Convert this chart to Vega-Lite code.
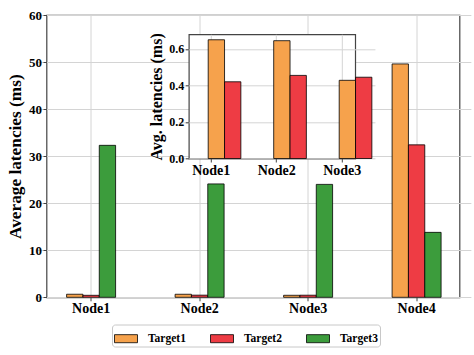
{
  "$schema": "https://vega.github.io/schema/vega-lite/v6.json",
  "autosize": {"type": "pad"},
  "padding": {"left": 5.5, "top": 8, "right": 0, "bottom": 0},
  "background": "white",
  "datasets": {
    "lat": [
      {"node": "Node1", "target": "Target1", "latency": 0.65},
      {"node": "Node1", "target": "Target2", "latency": 0.42},
      {"node": "Node1", "target": "Target3", "latency": 32.3},
      {"node": "Node2", "target": "Target1", "latency": 0.645},
      {"node": "Node2", "target": "Target2", "latency": 0.455},
      {"node": "Node2", "target": "Target3", "latency": 24.1},
      {"node": "Node3", "target": "Target1", "latency": 0.428},
      {"node": "Node3", "target": "Target2", "latency": 0.445},
      {"node": "Node3", "target": "Target3", "latency": 24.0},
      {"node": "Node4", "target": "Target1", "latency": 49.6},
      {"node": "Node4", "target": "Target2", "latency": 32.4},
      {"node": "Node4", "target": "Target3", "latency": 13.8}
    ]
  },
  "config": {
    "font": "Liberation Serif",
    "view": {"stroke": "#444444", "strokeWidth": 1.2},
    "axis": {
      "labelFont": "Liberation Serif", "labelFontWeight": "bold", "labelColor": "black",
      "titleFont": "Liberation Serif", "titleFontWeight": "bold", "titleColor": "black",
      "gridColor": "#d4d4d4", "gridWidth": 1, "domain": false,
      "tickColor": "#444444", "tickSize": 3.5, "tickWidth": 1
    }
  },
  "resolve": {"scale": {"color": "independent", "x": "independent", "y": "independent"}, "legend": {"color": "independent"}},
  "bounds": "flush",
  "align": "none",
  "spacing": -270.7,
  "hconcat": [
    {
      "width": 413,
      "height": 282.3,
      "data": {"name": "lat"},
      "mark": {"type": "bar", "stroke": "black", "strokeWidth": 0.8},
      "encoding": {
        "x": {
          "field": "node", "type": "nominal",
          "scale": {"domain": ["Node1", "Node2", "Node3", "Node4"], "range": [-9.65, 424.35], "paddingInner": 0, "paddingOuter": 0},
          "axis": {"title": null, "labelAngle": 0, "labelFontSize": 14, "labelPadding": 1, "grid": true}
        },
        "xOffset": {
          "field": "target", "type": "nominal",
          "scale": {"domain": ["Target1", "Target2", "Target3"], "range": [29.75, 78.75], "paddingInner": 0, "paddingOuter": 0}
        },
        "y": {
          "field": "latency", "type": "quantitative",
          "scale": {"domain": [0, 60], "nice": false},
          "axis": {"title": "Average latencies (ms)", "titleFontSize": 17.3, "labelFontSize": 13, "values": [0, 10, 20, 30, 40, 50, 60], "titlePadding": 4, "labelPadding": 1.5, "grid": true}
        },
        "color": {
          "field": "target", "type": "nominal",
          "scale": {"domain": ["Target1", "Target2", "Target3"], "range": ["#F6A24C", "#EE3C44", "#3C9C3C"]},
          "legend": {
            "orient": "none", "legendX": 65.5, "legendY": 309.5, "direction": "horizontal", "columns": 3, "title": null,
            "symbolType": "M-1,-0.35H1V0.35H-1Z", "symbolSize": 529, "symbolStrokeColor": "black", "symbolStrokeWidth": 0.8, "symbolOpacity": 1,
            "labelFont": "Liberation Serif", "labelFontWeight": "bold", "labelFontSize": 11.5, "labelColor": "black", "labelOffset": 10,
            "columnPadding": 22, "padding": 2, "strokeColor": "#c8c8c8", "fillColor": "white", "cornerRadius": 3
          }
        }
      }
    },
    {
      "bounds": "flush",
      "spacing": 18.3,
      "resolve": {"scale": {"color": "independent"}, "legend": {"color": "independent"}},
      "vconcat": [
        {
          "width": 10,
          "height": 1,
          "data": {"values": [{}]},
          "mark": {"type": "point", "opacity": 0},
          "encoding": {},
          "view": {"stroke": null}
        },
        {
          "width": 166.4,
          "height": 124.2,
          "view": {"fill": "white", "stroke": "#444444", "strokeWidth": 1.2},
          "data": {"name": "lat"},
          "transform": [
            {"filter": "datum.node != 'Node4' && datum.target != 'Target3'"}
          ],
          "mark": {"type": "bar", "stroke": "black", "strokeWidth": 0.8},
          "encoding": {
            "x": {
              "field": "node", "type": "nominal",
              "scale": {"domain": ["Node1", "Node2", "Node3"], "range": [-10.35, 186.15], "paddingInner": 0, "paddingOuter": 0},
              "axis": {"title": null, "labelAngle": 0, "labelFontSize": 14, "labelPadding": 1, "grid": true}
            },
            "xOffset": {
              "field": "target", "type": "nominal",
              "scale": {"domain": ["Target1", "Target2", "Target3"], "range": [17.75, 47.75], "paddingInner": 0, "paddingOuter": 0}
            },
            "y": {
              "field": "latency", "type": "quantitative",
              "scale": {"domain": [0, 0.68], "nice": false},
              "axis": {"title": "Avg. latencies (ms)", "titleFontSize": 16, "labelFontSize": 12, "values": [0, 0.2, 0.4, 0.6], "format": ".1f", "titlePadding": 4, "labelPadding": 1.5, "grid": true}
            },
            "color": {
              "field": "target", "type": "nominal",
              "scale": {"domain": ["Target1", "Target2", "Target3"], "range": ["#F6A24C", "#EE3C44", "#3C9C3C"]},
              "legend": null
            }
          }
        }
      ]
    }
  ]
}
